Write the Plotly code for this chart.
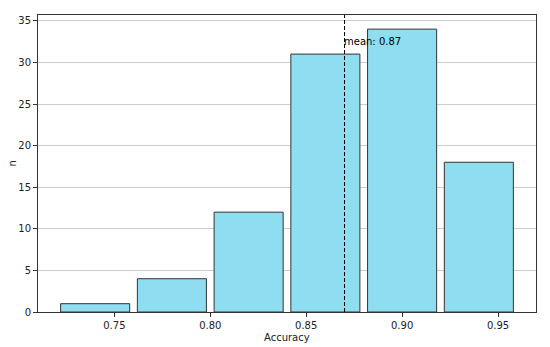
import plotly.graph_objects as go

bin_edges = [0.72, 0.76, 0.80, 0.84, 0.88, 0.92, 0.96]
counts = [1, 4, 12, 31, 34, 18]
mean_value = 0.87
x_ticks = [0.75, 0.80, 0.85, 0.90, 0.95]
y_ticks = [0, 5, 10, 15, 20, 25, 30, 35]
x_label = "Accuracy"
y_label = "n"

centers = [(bin_edges[i] + bin_edges[i + 1]) / 2 for i in range(len(counts))]
bw = (bin_edges[1] - bin_edges[0]) * 0.9

fig = go.Figure()
fig.add_trace(go.Bar(
    x=centers, y=counts, width=[bw] * len(counts),
    marker=dict(color="#8EDDF0", line=dict(color="#333333", width=1)),
))

lo = bin_edges[0] + (bin_edges[1] - bin_edges[0]) * 0.05
hi = bin_edges[-1] - (bin_edges[1] - bin_edges[0]) * 0.05
pad = (hi - lo) * 0.05
ymax = max(counts) * 1.05

fig.add_shape(type="line", x0=mean_value, x1=mean_value, y0=0, y1=1, yref="paper",
              line=dict(color="black", width=1, dash="4px,2px"), layer="above")
fig.add_annotation(x=mean_value, y=32.5, text=f"mean: {mean_value:.2f}", showarrow=False,
                   xanchor="left", yanchor="middle", xshift=-3,
                   font=dict(size=10, color="black"))
fig.add_annotation(x=0.5, xref="paper", y=0, yref="paper", yshift=-25, text=x_label,
                   showarrow=False, xanchor="center", yanchor="middle",
                   font=dict(size=10, color="#222222"))
fig.add_annotation(x=0, xref="paper", xshift=-26, y=0.5, yref="paper", text=y_label,
                   textangle=-90, showarrow=False, xanchor="center", yanchor="middle",
                   font=dict(size=10, color="#222222"))

axis_common = dict(showline=True, linecolor="#333333", linewidth=1, mirror=True,
                   ticks="outside", ticklen=4, tickcolor="#333333", zeroline=False,
                   automargin=False, tickfont=dict(size=10, color="#222222"))

fig.update_layout(
    width=550, height=347,
    margin=dict(l=38, r=14, t=15, b=35),
    paper_bgcolor="white", plot_bgcolor="white",
    font=dict(family="DejaVu Sans", size=10, color="#222222"),
    showlegend=False,
    xaxis=dict(range=[lo - pad, hi + pad], tickvals=x_ticks,
               ticktext=[f"{v:.2f}" for v in x_ticks], showgrid=False, **axis_common),
    yaxis=dict(range=[0, ymax], tickvals=y_ticks, showgrid=True, gridcolor="#CCCCCC",
               gridwidth=1, **axis_common),
)

fig.write_html("out.html", config={"displayModeBar": False},
               post_script="document.body.style.margin='0';document.body.style.overflow='hidden';")
